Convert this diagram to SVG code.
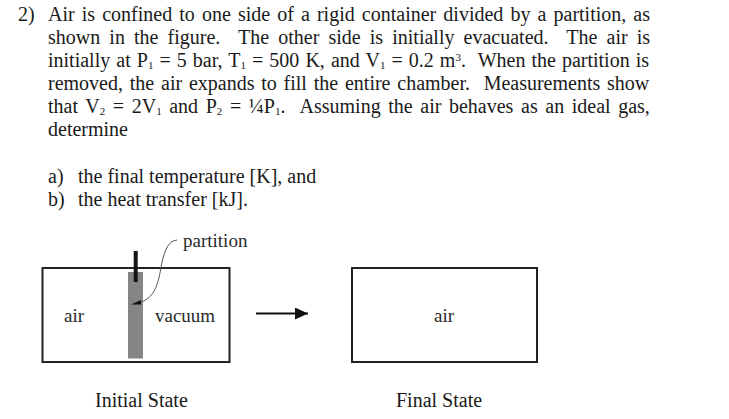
<svg xmlns="http://www.w3.org/2000/svg" width="729" height="419" viewBox="0 0 729 419">
<style>
text{font-family:"Liberation Serif","Times New Roman",serif;font-size:20px;fill:#1a1a1a}
.f{font-size:19px;fill:#2a2a2a}
.s{font-size:11px}
.box{fill:#fff;stroke:#222;stroke-width:2}
</style>
<defs>
<marker id="ah" markerUnits="userSpaceOnUse" markerWidth="13" markerHeight="12" refX="13" refY="6" orient="auto"><path d="M0 0L13 6L0 12Z" fill="#111"/></marker>
</defs>
<rect width="729" height="419" fill="#fff"/>
<g id="question">
<text x="18" y="21">2)</text>
<text x="48" y="21" word-spacing="2.1">Air is confined to one side of a rigid container divided by a partition, as</text>
<text x="48" y="44" word-spacing="4.1" xml:space="preserve">shown in the figure.  The other side is initially evacuated.  The air is</text>
<text x="48" y="67" word-spacing="1.05" xml:space="preserve">initially at P<tspan class="s" dy="1.500">1</tspan><tspan dy="-1.500"> = 5 bar, T</tspan><tspan class="s" dy="1.500">1</tspan><tspan dy="-1.500"> = 500 K, and V</tspan><tspan class="s" dy="1.500">1</tspan><tspan dy="-1.500"> = 0.2 m</tspan><tspan class="s" dy="-6">3</tspan><tspan dy="6">.  When the partition is</tspan></text>
<text x="48" y="90" word-spacing="1.8" xml:space="preserve">removed, the air expands to fill the entire chamber.  Measurements show</text>
<text x="48" y="113" word-spacing="2.6" xml:space="preserve">that V<tspan class="s" dy="1.500">2</tspan><tspan dy="-1.500"> = 2V</tspan><tspan class="s" dy="1.500">1</tspan><tspan dy="-1.500"> and P</tspan><tspan class="s" dy="1.500">2</tspan><tspan dy="-1.500"> = ¼P</tspan><tspan class="s" dy="1.500">1</tspan><tspan dy="-1.500">.  Assuming the air behaves as an ideal gas,</tspan></text>
<text x="48" y="136">determine</text>
<text x="48" y="183">a)</text>
<text x="78" y="183">the final temperature [K], and</text>
<text x="48" y="206">b)</text>
<text x="78" y="206">the heat transfer [kJ].</text>
</g>
<g id="initial-state">
<rect class="box" x="42.500" y="268" width="187" height="94"/>
<rect x="128" y="272" width="15" height="86.500" fill="#858588"/>
<rect x="133.700" y="251" width="4" height="31" fill="#151515"/>
<text class="f" x="64" y="322">air</text>
<text class="f" x="155" y="322">vacuum</text>
<text x="95" y="406.500">Initial State</text>
</g>
<g id="partition-label">
<text class="f" x="183" y="247">partition</text>
</g>
<g id="final-state">
<rect class="box" x="352" y="268" width="185" height="94"/>
<text class="f" x="434" y="322">air</text>
<text x="396" y="406.500">Final State</text>
</g>
<g id="connectors">
<path d="M177 240C168 241 165 250 162 262C159 278 157 297 141 302" fill="none" stroke="#555" stroke-width="1"/>
<path d="M131 304.500L141 300L141 304.500Z" fill="#111"/>
<line x1="256" y1="313.500" x2="308" y2="313.500" stroke="#111" stroke-width="2" marker-end="url(#ah)"/>
</g>
</svg>
